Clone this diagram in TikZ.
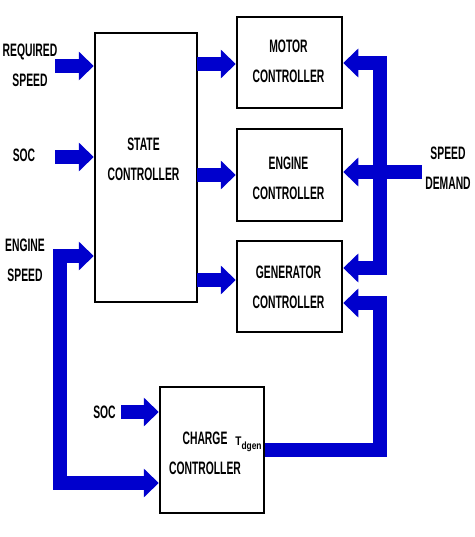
\documentclass[tikz,border=0pt]{standalone}
\usepackage{fontspec}
\setmainfont{Liberation Sans}[FakeStretch=0.575]
\newfontfamily\tdfont{Liberation Sans}[FakeStretch=0.8]
\usetikzlibrary{arrows.meta}
\definecolor{flow}{RGB}{0,0,205}
\begin{document}
\begin{tikzpicture}[x=1pt,y=-1pt,
  box/.style={draw=black,line width=2.5pt,fill=white,inner sep=0pt},
  lbl/.style={align=center,inner sep=0pt,font=\bfseries\fontsize{18}{30}\selectfont},
  flowarrow/.style={draw=flow,line width=14pt,line join=miter,-{Triangle[length=15pt,width=28pt]}},
  bus/.style={draw=flow,line width=14pt,line join=miter,{Triangle[length=15pt,width=28pt]}-{Triangle[length=15pt,width=28pt]}}
]
\useasboundingbox (0,0) rectangle (474,537);

% boxes
\node[box,minimum width=102pt,minimum height=269pt] (state) at (146,167.5) {};
\node[box,minimum width=105pt,minimum height=91pt] (motor) at (289.5,62.5) {};
\node[box,minimum width=105pt,minimum height=92pt] (engine) at (289.5,175) {};
\node[box,minimum width=105pt,minimum height=91pt] (gen) at (289.5,286.5) {};
\node[box,minimum width=104pt,minimum height=126pt] (charge) at (212,450) {};

% labels
\node[lbl] (lreq) at (30,65.5) {REQUIRED\\SPEED};
\node[lbl] (lsoc) at (24,155) {SOC};
\node[lbl] (leng) at (25,260) {ENGINE\\SPEED};
\node[lbl] (lstate) at (143.5,159) {STATE\\CONTROLLER};
\node[lbl] (lmotor) at (288.5,61.5) {MOTOR\\CONTROLLER};
\node[lbl] (lengine) at (288.5,178.5) {ENGINE\\CONTROLLER};
\node[lbl] (lgen) at (288.5,287.5) {GENERATOR\\CONTROLLER};
\node[lbl] (lsd) at (448,168.5) {SPEED\\DEMAND};
\node[lbl] (lcharge) at (205,453.5) {CHARGE\\CONTROLLER};
\node[lbl] (lsoc2) at (104.5,412) {SOC};
\node[inner sep=0pt,font=\tdfont\bfseries\fontsize{12.5}{13}\selectfont] (ltd) at (248.5,444.5)
  {T{\fontsize{10.5}{11}\selectfont\raisebox{-4pt}{dgen}}};

% coordinates
\coordinate (rs) at (55,66);
\coordinate (soc) at (55,157);
\coordinate (es1) at (60,256);
\coordinate (es2) at (60,483);
\coordinate (o1) at (197,64);
\coordinate (o2) at (197,175);
\coordinate (o3) at (197,280);
\coordinate (sd) at (422,172);
\coordinate (b1) at (380,63);
\coordinate (b2) at (380,268);
\coordinate (t1) at (380,450);
\coordinate (t2) at (380,303);
\coordinate (soc2) at (121,412);

% arrows
\draw[flowarrow] (rs) -- (state.west |- rs);
\draw[flowarrow] (soc) -- (state.west |- soc);
\draw[bus] (state.west |- es1) -- (es1) -- (es2) -- (charge.west |- es2);
\draw[flowarrow] (o1) -- (motor.west |- o1);
\draw[flowarrow] (o2) -- (engine.west |- o2);
\draw[flowarrow] (o3) -- (gen.west |- o3);
\draw[flowarrow] (sd) -- (engine.east |- sd);
\draw[bus] (motor.east |- b1) -- (b1) -- (b2) -- (gen.east |- b2);
\draw[flowarrow] (charge.east) -- (t1) -- (t2) -- (gen.east |- t2);
\draw[flowarrow] (soc2) -- (charge.west |- soc2);
\end{tikzpicture}
\end{document}
